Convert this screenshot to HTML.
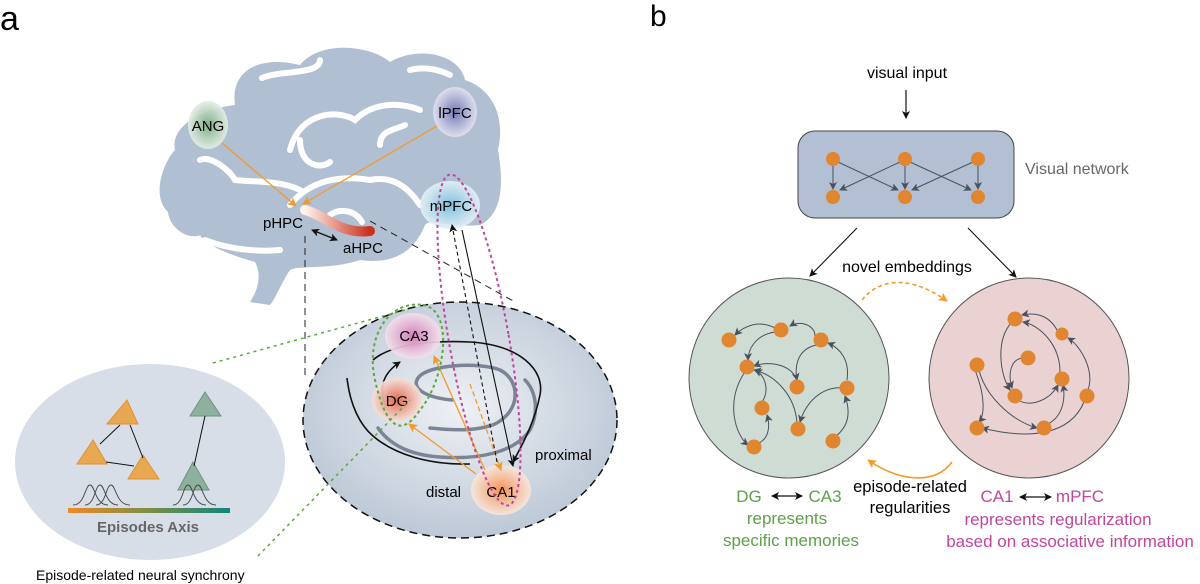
<!DOCTYPE html>
<html><head><meta charset="utf-8"><style>
body{margin:0;background:#fff;}
svg{display:block;font-family:"Liberation Sans",Arial,sans-serif;}
</style></head><body>
<svg width="1200" height="584" viewBox="0 0 1200 584" xmlns="http://www.w3.org/2000/svg">
<defs>
<marker id="ab" markerWidth="8" markerHeight="8" refX="7" refY="4" orient="auto-start-reverse" markerUnits="userSpaceOnUse"><path d="M0,0 L8,4 L0,8 L2,4z" fill="#111"/></marker>
<marker id="ag" markerWidth="8" markerHeight="8" refX="7" refY="4" orient="auto" markerUnits="userSpaceOnUse"><path d="M0,0 L8,4 L0,8 L2,4z" fill="#4a525e"/></marker>
<marker id="ao" markerWidth="9" markerHeight="9" refX="8" refY="4.5" orient="auto" markerUnits="userSpaceOnUse"><path d="M0,0 L9,4.5 L0,9 L2,4.5z" fill="#f39a2b"/></marker>
<radialGradient id="hip" cx="0.5" cy="0.45" r="0.6"><stop offset="0" stop-color="#eef1f5"/><stop offset="1" stop-color="#b9c5d4"/></radialGradient>
<linearGradient id="tube" x1="0" x2="1"><stop offset="0" stop-color="#fff3ea"/><stop offset="1" stop-color="#c9301c"/></linearGradient>
<linearGradient id="axis" x1="0" x2="1"><stop offset="0" stop-color="#f08a24"/><stop offset="0.5" stop-color="#7b8e46"/><stop offset="1" stop-color="#10857e"/></linearGradient>
<radialGradient id="gANG"><stop offset="0" stop-color="#7fae85"/><stop offset="1" stop-color="#e4eee6" stop-opacity="0.9"/></radialGradient>
<radialGradient id="gPFC"><stop offset="0" stop-color="#7377b4"/><stop offset="1" stop-color="#e2e2f0" stop-opacity="0.9"/></radialGradient>
<radialGradient id="gm"><stop offset="0" stop-color="#7ec0de"/><stop offset="1" stop-color="#e4f0f6" stop-opacity="0.9"/></radialGradient>
<radialGradient id="gCA3"><stop offset="0" stop-color="#d37fb8"/><stop offset="1" stop-color="#f2e1ec" stop-opacity="0.9"/></radialGradient>
<radialGradient id="gDG"><stop offset="0" stop-color="#e4694d"/><stop offset="1" stop-color="#f5e0da" stop-opacity="0.9"/></radialGradient>
<radialGradient id="gCA1"><stop offset="0" stop-color="#f39356"/><stop offset="1" stop-color="#f8e6dc" stop-opacity="0.9"/></radialGradient>
</defs>

<text x="0" y="30" font-size="34">a</text>
<text x="650" y="26" font-size="30">b</text>

<!-- brain -->
<path d="M235,105 C230,70 260,55 300,65 C320,40 370,45 390,62 C420,45 460,55 465,80 C495,90 505,120 498,150 C505,190 500,215 480,225 C450,228 430,218 425,225 C415,250 395,265 360,260 C330,270 300,265 290,270 C280,285 275,300 270,305 L250,302 C258,290 262,275 255,262 C230,255 205,245 200,235 C190,240 170,230 168,212 C150,195 165,160 175,150 C170,130 195,110 235,105Z" fill="#b0bfd2"/>
<g stroke="#fff" stroke-width="6" fill="none" stroke-linecap="round">
<path d="M262,78 C280,70 320,75 320,60"/>
<path d="M290,150 C300,110 340,110 355,120 C370,105 395,100 420,110"/>
<path d="M300,140 C300,165 320,170 330,162"/>
<path d="M200,160 C210,155 230,170 235,180 C250,182 280,180 300,190"/>
<path d="M290,205 C310,180 340,175 370,180 C395,175 410,190 420,205"/>
<path d="M380,145 C380,130 395,130 405,125"/>
<path d="M330,215 C340,208 355,210 362,222"/>
<path d="M205,240 C230,250 260,252 280,250"/>
<path d="M410,70 C425,66 440,70 450,75"/>
</g>
<line x1="305" y1="236" x2="305" y2="375" stroke="#222" stroke-dasharray="7,5"/>
<line x1="370" y1="221" x2="515" y2="302" stroke="#222" stroke-dasharray="7,5"/>

<ellipse cx="208" cy="125" rx="20" ry="24" fill="url(#gANG)"/>
<text x="208" y="131" font-size="15" text-anchor="middle">ANG</text>
<ellipse cx="455" cy="112" rx="22" ry="25" fill="url(#gPFC)"/>
<text x="455" y="118" font-size="15" text-anchor="middle">lPFC</text>
<ellipse cx="450" cy="205" rx="30" ry="24" fill="url(#gm)"/>
<text x="451" y="211" font-size="15" text-anchor="middle">mPFC</text>

<path d="M305,210 C325,215 340,235 370,231" stroke="url(#tube)" stroke-width="10" stroke-linecap="round" fill="none"/>
<text x="283" y="228" font-size="15" text-anchor="middle">pHPC</text>
<text x="363" y="253" font-size="15" text-anchor="middle">aHPC</text>
<line x1="312" y1="230" x2="337" y2="240" stroke="#111" stroke-width="1.3" marker-end="url(#ab)" marker-start="url(#ab)"/>
<line x1="222" y1="143" x2="296" y2="206" stroke="#f39a2b" stroke-width="1.3" marker-end="url(#ao)"/>
<line x1="437" y1="126" x2="303" y2="204" stroke="#f39a2b" stroke-width="1.3" marker-end="url(#ao)"/>

<!-- hippocampus -->
<ellipse cx="460" cy="420" rx="157" ry="118" fill="url(#hip)" stroke="#111" stroke-width="1.5" stroke-dasharray="8,5"/>
<g fill="none" stroke="#7a8494" stroke-width="3.5" stroke-linecap="round">
<path d="M452,400 C430,398 410,390 418,378 C428,364 480,362 500,370 C520,380 522,410 495,424 C475,432 450,430 430,428"/>
<path d="M378,428 C390,445 410,455 440,457 C480,460 515,452 530,430 C540,410 535,390 525,380"/>
</g>
<g fill="none" stroke="#111" stroke-width="1.6">
<path d="M373,360 C390,345 430,340 470,342 C520,345 545,370 540,395 C535,420 525,440 513,462" marker-end="url(#ab)"/>
<path d="M347,378 C350,405 360,425 373,436 C395,455 430,465 470,464"/>
<path d="M385,405 C378,385 385,372 400,362" marker-end="url(#ab)"/>
</g>
<ellipse cx="413" cy="336" rx="28" ry="23" fill="url(#gCA3)"/>
<text x="414" y="341" font-size="15" text-anchor="middle">CA3</text>
<ellipse cx="397" cy="400" rx="25" ry="22" fill="url(#gDG)"/>
<text x="397" y="406" font-size="15" text-anchor="middle">DG</text>
<ellipse cx="501" cy="490" rx="30" ry="25" fill="url(#gCA1)"/>
<text x="501" y="497" font-size="15" text-anchor="middle">CA1</text>
<text x="535" y="460" font-size="15">proximal</text>
<text x="426" y="497" font-size="15">distal</text>
<line x1="476" y1="474" x2="409" y2="424" stroke="#f39a2b" stroke-width="1.3" marker-end="url(#ao)"/>
<line x1="485" y1="470" x2="434" y2="356" stroke="#f39a2b" stroke-width="1.3" marker-end="url(#ao)"/>
<line x1="470" y1="384" x2="501" y2="470" stroke="#f39a2b" stroke-width="1.3" stroke-dasharray="5,3" marker-end="url(#ao)"/>
<line x1="462" y1="230" x2="513" y2="466" stroke="#111" stroke-width="1.1" marker-end="url(#ab)"/>
<line x1="497" y1="462" x2="452" y2="225" stroke="#111" stroke-width="1.1" stroke-dasharray="4,3" marker-end="url(#ab)"/>
<ellipse cx="479" cy="340" rx="30" ry="168" transform="rotate(-10 479 340)" fill="none" stroke="#c0469c" stroke-width="2" stroke-dasharray="3,3"/>
<path d="M423,305 C455,310 445,380 420,410 C400,440 385,425 375,380 C365,335 390,300 423,305Z" fill="none" stroke="#5aa83c" stroke-width="2" stroke-dasharray="3,3"/>
<line x1="213" y1="363" x2="405" y2="310" stroke="#5aa83c" stroke-width="1.5" stroke-dasharray="3,4"/>
<line x1="258" y1="556" x2="410" y2="400" stroke="#5aa83c" stroke-width="1.5" stroke-dasharray="3,4"/>

<!-- left synchrony ellipse -->
<ellipse cx="150" cy="462" rx="135" ry="98" fill="#d8dee7"/>
<g fill="#e8a852" stroke="#e09030"><path d="M127,400 L107,424 L138,424Z"/><path d="M93,440 L77,464 L107,464Z"/><path d="M143,455 L128,479 L159,479Z"/></g>
<g stroke="#111" stroke-width="1"><line x1="100" y1="444" x2="120" y2="425"/><line x1="130" y1="425" x2="143" y2="458"/><line x1="106" y1="462" x2="134" y2="466"/></g>
<g fill="#8eb09e" stroke="#6d9480"><path d="M205,392 L190,416 L221,416Z"/><path d="M193,462 L178,490 L209,490Z"/></g>
<line x1="205" y1="416" x2="194" y2="466" stroke="#111"/>
<g fill="none" stroke="#444" stroke-width="0.9">
<path d="M73,505 C85,505 85,485 90,485 C95,485 95,505 108,505"/>
<path d="M85,505 C95,505 95,485 100,485 C105,485 105,505 118,505"/>
<path d="M96,505 C106,505 106,485 111,485 C116,485 116,505 130,505"/>
<path d="M173,505 C183,505 183,485 188,485 C193,485 193,505 206,505"/>
<path d="M183,505 C193,505 193,485 198,485 C203,485 203,505 216,505"/>
</g>
<rect x="68" y="508" width="162" height="5" fill="url(#axis)"/>
<text x="148" y="532" font-size="15" font-weight="bold" fill="#666" text-anchor="middle">Episodes Axis</text>
<text x="36" y="580" font-size="14">Episode-related neural synchrony</text>

<!-- panel b -->
<text x="907" y="78" font-size="16" text-anchor="middle">visual input</text>
<line x1="906" y1="90" x2="906" y2="118" stroke="#111" stroke-width="1.2" marker-end="url(#ab)"/>
<rect x="798" y="131" width="216" height="87" rx="17" fill="#b3c0d3" stroke="#444" stroke-width="1"/>
<g stroke="#4a525e" stroke-width="1" marker-end="url(#ag)">
<line x1="833" y1="164" x2="833" y2="189"/><line x1="905" y1="164" x2="905" y2="189"/><line x1="978" y1="164" x2="978" y2="189"/>
<line x1="838" y1="162" x2="898" y2="190"/><line x1="900" y1="162" x2="840" y2="190"/>
<line x1="910" y1="162" x2="971" y2="190"/><line x1="973" y1="162" x2="912" y2="190"/>
</g>
<g fill="#e08530"><circle cx="833" cy="159" r="7"/><circle cx="905" cy="159" r="7"/><circle cx="978" cy="159" r="7"/><circle cx="833" cy="197" r="7"/><circle cx="905" cy="197" r="7"/><circle cx="978" cy="197" r="7"/></g>
<text x="1025" y="174" font-size="16" fill="#666">Visual network</text>
<line x1="857" y1="228" x2="810" y2="276" stroke="#111" stroke-width="1.1" marker-end="url(#ab)"/>
<line x1="968" y1="228" x2="1016" y2="277" stroke="#111" stroke-width="1.1" marker-end="url(#ab)"/>
<text x="907" y="272" font-size="16" text-anchor="middle">novel embeddings</text>

<circle cx="789" cy="378" r="100" fill="#cedcd4" stroke="#555" stroke-width="1"/>
<circle cx="1029" cy="378" r="100" fill="#ead2d3" stroke="#555" stroke-width="1"/>
<path d="M862,300 C880,278 910,275 947,301" fill="none" stroke="#f39a2b" stroke-width="1.6" stroke-dasharray="4,3" marker-end="url(#ao)"/>
<path d="M952,462 C935,485 900,482 868,460" fill="none" stroke="#f39a2b" stroke-width="1.6" marker-end="url(#ao)"/>

<g fill="none" stroke="#4a525e" stroke-width="1" marker-end="url(#ag)">
<path d="M775,328 C760,320 745,325 735,335"/>
<path d="M815,336 C815,325 800,320 790,326"/>
<path d="M775,332 C755,335 748,350 748,360"/>
<path d="M847,380 C850,360 840,348 828,343"/>
<path d="M816,345 C795,350 795,370 797,380"/>
<path d="M797,383 C795,365 770,360 754,366"/>
<path d="M762,402 C770,390 765,375 755,370"/>
<path d="M797,423 C795,395 775,375 754,370"/>
<path d="M845,388 C820,385 805,405 800,422"/>
<path d="M745,372 C725,400 735,435 748,445"/>
<path d="M756,444 C770,440 770,425 767,415"/>
<path d="M836,436 C850,425 850,410 845,396"/>
<path d="M1058,332 C1050,315 1035,312 1022,315"/>
<path d="M1060,372 C1060,345 1040,325 1023,322"/>
<path d="M1012,322 C995,340 1000,375 1010,390"/>
<path d="M1022,358 C1010,360 1008,375 1012,388"/>
<path d="M1018,400 C1030,408 1050,400 1058,385"/>
<path d="M1048,424 C1065,415 1065,395 1063,385"/>
<path d="M1088,390 C1095,370 1080,345 1068,338"/>
<path d="M979,370 C985,395 1010,420 1037,428"/>
<path d="M975,370 C985,395 985,415 979,422"/>
<path d="M1084,402 C1070,435 1030,440 982,428"/>
</g>
<g fill="#e08530">
<circle cx="729" cy="340" r="7.5"/><circle cx="781" cy="330" r="7.5"/><circle cx="821" cy="340" r="7.5"/><circle cx="747" cy="367" r="7.5"/><circle cx="797" cy="387" r="7.5"/><circle cx="847" cy="388" r="7.5"/><circle cx="762" cy="408" r="7.5"/><circle cx="798" cy="429" r="7.5"/><circle cx="754" cy="447" r="7.5"/><circle cx="833" cy="441" r="7.5"/>
<circle cx="1015" cy="319" r="7.5"/><circle cx="1062" cy="334" r="6.5"/><circle cx="1028" cy="358" r="7.5"/><circle cx="977" cy="365" r="7.5"/><circle cx="1062" cy="379" r="7.5"/><circle cx="1015" cy="396" r="7.5"/><circle cx="1087" cy="396" r="7.5"/><circle cx="977" cy="428" r="7.5"/><circle cx="1044" cy="428" r="7.5"/>
</g>

<text x="910" y="492" font-size="16.5" text-anchor="middle">episode-related</text>
<text x="910" y="513" font-size="16.5" text-anchor="middle">regularities</text>
<g font-size="17" text-anchor="middle" fill="#5ea04a">
<text x="749" y="502">DG</text><text x="825" y="502">CA3</text>
<text x="787" y="524">represents</text><text x="791" y="546">specific memories</text>
</g>
<line x1="772" y1="496" x2="802" y2="496" stroke="#111" stroke-width="1.2" marker-end="url(#ab)" marker-start="url(#ab)"/>
<g font-size="17" text-anchor="middle" fill="#c0469c">
<text x="997" y="502">CA1</text><text x="1080" y="502">mPFC</text>
<text x="1058" y="525">represents regularization</text><text x="1070" y="547">based on associative information</text>
</g>
<line x1="1020" y1="497" x2="1051" y2="497" stroke="#111" stroke-width="1.2" marker-end="url(#ab)" marker-start="url(#ab)"/>
</svg>
</body></html>
